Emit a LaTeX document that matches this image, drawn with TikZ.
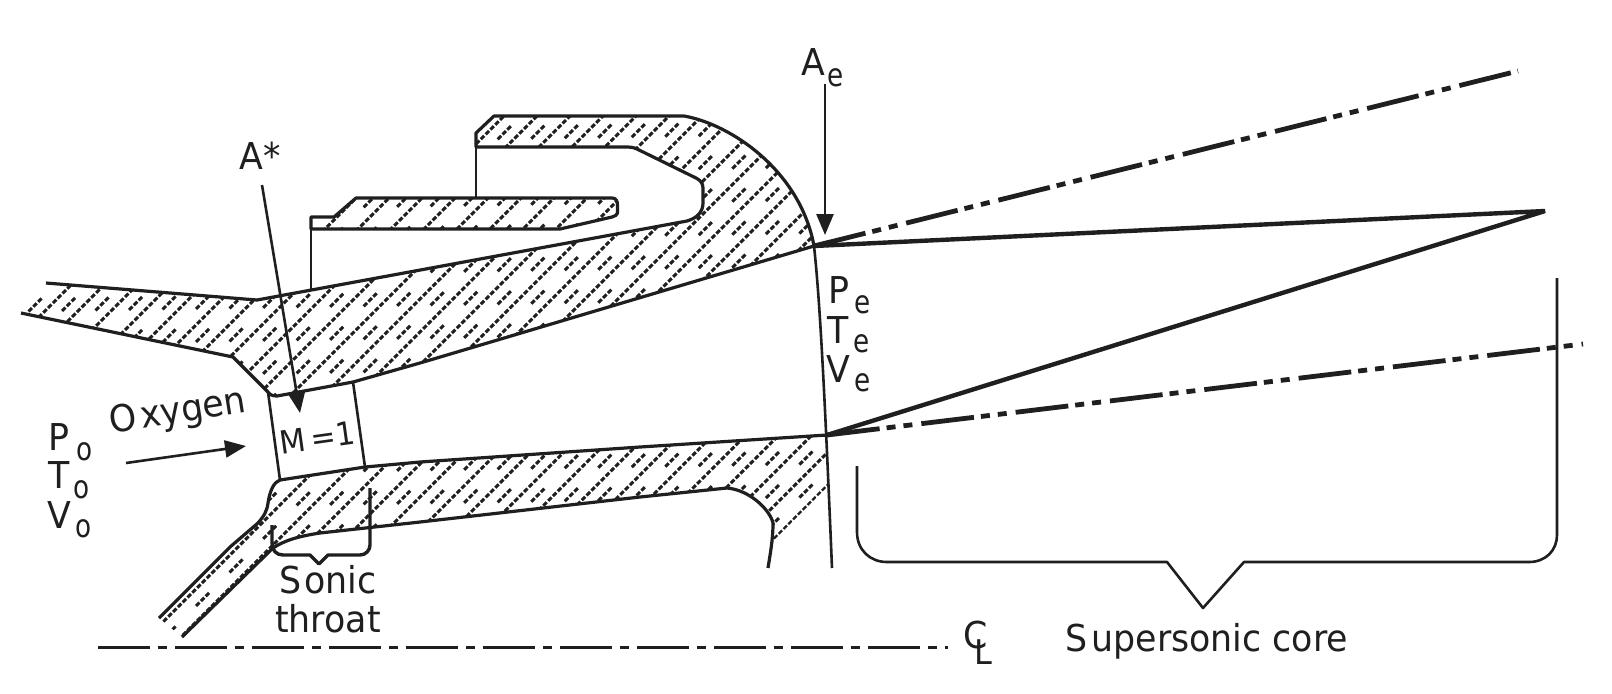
\documentclass[tikz,border=0pt]{standalone}
\usepackage{fontspec}
\setmainfont[FakeStretch=0.94]{DejaVu Sans}
\newfontface\subface[FakeStretch=0.82]{DejaVu Sans}
\usetikzlibrary{arrows.meta}
\colorlet{ink}{black!88}
\tikzset{
  outline/.style={line width=1.6pt,draw=ink,line join=round},
  thin outline/.style={line width=1.3pt,draw=ink},
  core/.style={line width=2.2pt,draw=ink,line join=bevel},
  ray/.style={line width=2.4pt,draw=ink,dash pattern=on 26.5pt off 3.5pt on 4.5pt off 4pt on 4.5pt off 4.5pt},
  axis/.style={line width=1.5pt,draw=ink,dash pattern=on 26pt off 4pt on 4.5pt off 4pt},
  hatchfull/.style={line width=1.5pt,draw=ink,dash pattern=on 2.4pt off 1pt},
  hatchshort/.style={line width=1.5pt,draw=ink,dash pattern=on 2.4pt off 1pt on 2.4pt off 1pt on 2.4pt off 14.5pt},
  pointer/.style={line width=1.3pt,draw=ink,-{Triangle[length=10.5pt,width=8.5pt,fill=ink]}},
  lab/.style={font=\fontsize{18.5}{20}\selectfont,text=ink,inner sep=0pt,anchor=base west},
  sublab/.style={font=\subface\fontsize{16}{18}\selectfont,text=ink,inner sep=0pt,anchor=base west},
}
\def\upperbody{(46,283) -- (257,300) -- (687,221) .. controls (697,218) and (703,212) .. (703,203) -- (703,188) .. controls (703,183) and (700,180) .. (696,178) -- (637,149) .. controls (633,147) and (629,147) .. (625,147) -- (476,147) -- (476,133) -- (494,116) -- (684,116) .. controls (730,124) and (800,170) .. (814,246) -- (420,363) -- (353,382) -- (277,396) .. controls (273,396) and (270,395) .. (268,392) -- (233,357) -- (21,313)}
\def\midlip{(311,229) -- (311,217) -- (334,217) -- (356,198) -- (612,198) .. controls (616,198) and (617.5,201) .. (617.5,205) -- (617.5,213) .. controls (617.5,215) and (615,216) .. (612,217) -- (560,229) -- cycle}
\def\lowerbody{(159,618) -- (230,547) -- (258,523) .. controls (264,516) and (267,511) .. (268,503) .. controls (270,490) and (274,482) .. (280,480) -- (365,467) -- (420,462) -- (640,447) -- (827,435)}
\def\lowerret{-- (829,485) -- (773,541) -- (773,523) .. controls (770,510) and (750,490) .. (727,488) -- (640,497) -- (420,522) -- (320,533) .. controls (300,536) and (285,540) .. (273,548) -- (182,637) -- cycle}
\begin{document}
\begin{tikzpicture}[x=0.5pt,y=-0.5pt]
\useasboundingbox (0,0) rectangle (1612,693);
\fill[white] (0,0) rectangle (1612,693);
% hatching
\begin{scope}
\clip \upperbody -- cycle \midlip \lowerbody \lowerret;
\foreach \k in {8,...,42}{
  \pgfmathsetmacro{\cc}{33*\k+26}
  \draw[hatchfull] (0,\cc) -- (1000,\cc-1000);
  \pgfmathsetmacro{\cs}{33*\k+43}
  \draw[hatchshort] (-5,\cs+5) -- (1000,\cs-1000);
}
\end{scope}
% outlines
\draw[outline] \upperbody;
\draw[outline] \midlip;
\draw[outline] \lowerbody;
\draw[outline] (182,637) -- (273,548) .. controls (285,540) and (300,536) .. (320,533) -- (420,522) -- (640,497) -- (727,488) .. controls (750,490) and (770,510) .. (773,523) .. controls (773,540) and (770,555) .. (768,568);
% struts and planes
\draw[thin outline] (311,229) -- (311,290);
\draw[thin outline] (476,147) -- (476,198);
\draw[thin outline] (268,392) -- (280,480);
\draw[thin outline] (353,382) -- (365,467);
\draw[thin outline] (814,246) .. controls (820,300) and (825,400) .. (832,568);
% jet
\draw[core] (814,246) -- (1545,211) -- (827,435);
\draw[ray] (814,246) -- (1518,71);
\draw[ray] (827,435) -- (1583,344);
% centre line
\draw[axis] (98,647) -- (948,647);
% braces
\draw[line width=1.3pt,draw=ink,line join=round] (857,466) -- (857,532) .. controls (857,550) and (870,562) .. (887,562) -- (1167,562) -- (1203,608) -- (1244,562) -- (1529,562) .. controls (1546,562) and (1557,550) .. (1557,535) -- (1557,278);
\draw[line width=1.7pt,draw=ink,line join=round] (272,525) -- (272,543) .. controls (272,550) and (276,555) .. (283,555) -- (310,555) -- (319,564) -- (328,555) -- (360,555) .. controls (366,555) and (370,550) .. (370,545) -- (370,488);
% pointers
\coordinate (astart) at (262,185); \coordinate (aend) at (300,413);
\draw[pointer] (astart) -- (aend);
\coordinate (ostart) at (126,463); \coordinate (oend) at (246,446);
\draw[pointer] (ostart) -- (oend);
\coordinate (estart) at (825,84); \coordinate (eend) at (825,235);
\draw[pointer] (estart) -- (eend);
% labels
\node[lab] (tA) at (801,75) {A};
\node[sublab] (tAe) at (827,86) {e};
\node[lab] (tAs) at (239,169) {A*};
\node[lab] (tPe) at (828,303) {P};
\node[sublab] (tPes) at (854,313) {e};
\node[lab] (tTe) at (827,343) {T};
\node[sublab] (tTes) at (853,352) {e};
\node[lab] (tVe) at (826,382) {V};
\node[sublab] (tVes) at (854,391) {e};
\node[lab] (tPo) at (48,450) {P};
\node[sublab] (tPos) at (76,460) {o};
\node[lab] (tTo) at (48,488) {T};
\node[sublab] (tTos) at (73,498) {o};
\node[lab] (tVo) at (47,528) {V};
\node[sublab] (tVos) at (75,537) {o};
\node[lab,rotate=9,anchor=center] (tOx) at (178,413) {O\kern2pt xygen};
\node[lab,font=\fontsize{16}{18}\selectfont,rotate=8,anchor=center] (tM) at (317,438) {M\,=1};
\node[lab,anchor=base] (tS1) at (328,593) {S\kern1.5pt onic};
\node[lab,anchor=base] (tS2) at (328,632) {throat};
\node[lab] (tCore) at (1065,651) {S\kern2pt upersonic core};
\node[lab] (tC) at (963,648) {C};
\node[lab,font=\fontsize{17}{18}\selectfont] (tL) at (974,664) {L};
\end{tikzpicture}
\end{document}
